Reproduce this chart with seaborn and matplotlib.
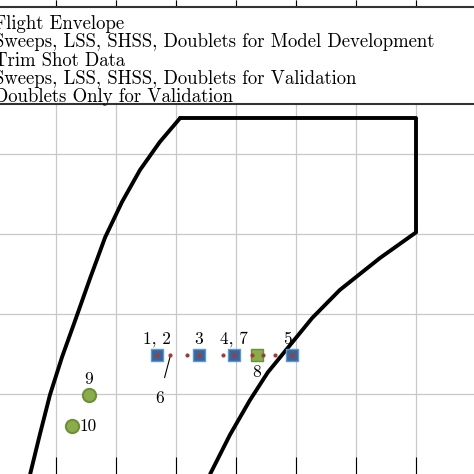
import numpy as np
import pandas as pd
import seaborn as sns
import matplotlib.pyplot as plt
from matplotlib.patches import Rectangle

# envelope, in grid units (x gridlines at 1..7, y gridlines at 1..4)
left_x = [0.57, 0.73, 0.9, 1.1, 1.32, 1.57, 1.82, 2.1, 2.4, 2.73, 3.07]
left_y = [0.0, 0.49, 0.99, 1.46, 1.92, 2.45, 2.96, 3.4, 3.8, 4.15, 4.45]
top_x = [3.07, 7.0, 7.0]
top_y = [4.45, 4.45, 3.02]
right_x = [7.0, 6.4, 5.73, 5.27, 4.9, 4.53, 4.23, 3.9, 3.57]
right_y = [3.02, 2.7, 2.3, 1.95, 1.61, 1.27, 0.92, 0.49, 0.0]

sq_x = [2.68, 3.38, 3.97, 4.93]
sq_y = [1.49, 1.49, 1.49, 1.49]
sq_lab = ['1, 2', '3', '4, 7', '5']
dot_x = [2.68, 2.9, 3.18, 3.38, 3.78, 3.97, 4.27, 4.45, 4.65, 4.93]
dot_y = [1.49] * 10
trim_x = [4.35]
trim_y = [1.49]
circ_x = [1.55, 1.27]
circ_y = [0.99, 0.6]
circ_lab = ['9', '10']

legend_labels = ['Flight Envelope',
                 'Sweeps, LSS, SHSS, Doublets for Model Development',
                 'Trim Shot Data',
                 'Sweeps, LSS, SHSS, Doublets for Validation',
                 'Doublets Only for Validation']

sns.set_style('white')
plt.rcParams['font.family'] = ['cmr10', 'DejaVu Serif']
plt.rcParams['axes.formatter.use_mathtext'] = True

fig = plt.figure(figsize=(4.74, 4.74), dpi=100)
ax = fig.add_axes([0, 0, 1, 1])

for xs, ys in [(left_x, left_y), (top_x, top_y), (right_x, right_y)]:
    sns.lineplot(x=xs, y=ys, sort=False, color='black', lw=2.8, ax=ax, estimator=None)

sns.scatterplot(x=sq_x, y=sq_y, marker='s', s=75, color='#3e6396', edgecolor='#5a9bd5', linewidth=1, ax=ax, zorder=3)
sns.scatterplot(x=trim_x, y=trim_y, marker='s', s=70, color='#8aac4a', edgecolor='#6d8f3a', linewidth=1, ax=ax, zorder=3)
sns.scatterplot(x=dot_x, y=dot_y, marker='o', s=9, color='#9e3b3b', linewidth=0, ax=ax, zorder=4)
sns.scatterplot(x=circ_x, y=circ_y, marker='o', s=90, color='#8aac4a', edgecolor='#6d8f3a', linewidth=1.5, ax=ax, zorder=3)

fs = 12.5
for x, y, t in zip(sq_x, sq_y, sq_lab):
    ax.text(x - (0.08 if t == '5' else 0), y + 0.1, t, ha='center', va='bottom', fontsize=fs, color='black')
ax.text(trim_x[0], trim_y[0] - 0.12, '8', ha='center', va='top', fontsize=fs, color='black')
ax.annotate('6', xy=(dot_x[1], dot_y[1] - 0.03), xytext=(2.72, 0.95), ha='center', va='center',
            fontsize=fs, color='black',
            arrowprops=dict(arrowstyle='-', color='black', lw=0.8, shrinkB=0, shrinkA=7))
ax.text(circ_x[0], circ_y[0] + 0.1, circ_lab[0], ha='center', va='bottom', fontsize=fs, color='black')
ax.text(circ_x[1] + 0.12, circ_y[1], circ_lab[1], ha='left', va='center', fontsize=fs, color='black')

ax.set_xlim(0.067, 7.967)
ax.set_ylim(0, 5.925)
ax.set_xticks(range(1, 8))
ax.set_yticks(range(1, 5))
ax.grid(True, color='#c8c8c8', lw=0.9)
ax.tick_params(direction='in', length=12, top=True, bottom=True, left=False,
               labelbottom=False, labelleft=False, color='black')
for s in ax.spines.values():
    s.set_visible(False)

# legend box (handles fall outside the cropped image)
fig.patches.append(Rectangle((-0.05, 1 - 104 / 474), 1.2, 97 / 474,
                             transform=fig.transFigure, facecolor='white', edgecolor='#333333',
                             lw=1.5, zorder=10))
for i, lab in enumerate(legend_labels):
    fig.text(-0.012, 1 - (24 + i * 18.3) / 474, lab, fontsize=13.5, va='center', ha='left',
             color='black', zorder=11)

fig.savefig('out.png', dpi=100)
